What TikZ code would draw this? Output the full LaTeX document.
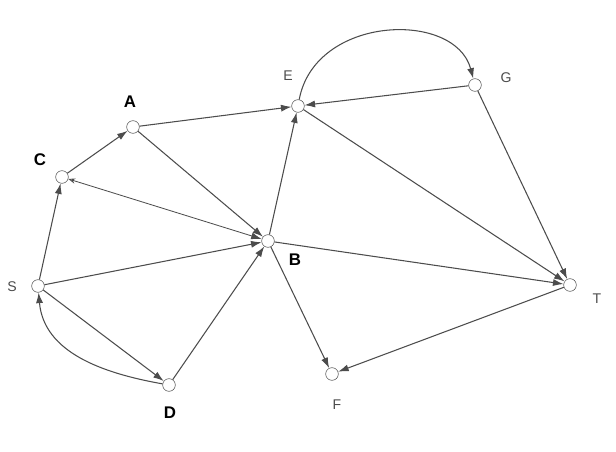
\documentclass[tikz,border=0pt]{standalone}
\usepackage{fontspec}
\setmainfont{Liberation Sans}
\usetikzlibrary{arrows.meta}
\begin{document}
\begin{tikzpicture}[x=0.03cm,y=-0.03cm,
 v/.style={draw=black!75,circle,minimum size=0.38cm,inner sep=0pt,fill=white},
 bl/.style={font=\bfseries\Large},
 gl/.style={font=\large,text=black!70},
 e/.style={draw=black!70,line width=0.9pt,-{Latex[length=9pt,width=6pt]},shorten >=0pt}]
\useasboundingbox (0,0) rectangle (616,452);
\node[v] (A) at (133,127) {};
\node[v] (C) at (62,177) {};
\node[v] (E) at (298,106) {};
\node[v] (G) at (475,85) {};
\node[v] (B) at (268,241) {};
\node[v] (S) at (38,286) {};
\node[v] (T) at (570,285) {};
\node[v] (D) at (169,385) {};
\node[v] (F) at (332,374) {};
\node[bl] (lA) at (130,102) {A};
\node[bl] (lC) at (40,160) {C};
\node[bl] (lB) at (295,260) {B};
\node[bl] (lD) at (170,413) {D};
\node[gl] (lE) at (288,76) {E};
\node[gl] (lG) at (506,78) {G};
\node[gl] (lS) at (12,287) {S};
\node[gl] (lT) at (597,299) {T};
\node[gl] (lF) at (337,405) {F};
\draw[e] (A) -- (E);
\draw[e] (A) -- (B);
\draw[e] (C) -- (A);
\draw[e] (S) -- (C);
\draw[e] (S) -- (B);
\draw[e] (S) -- (D);
\draw[e] (D) to[out=170,in=-85] (S);
\draw[e] (D) -- (B);
\draw[e] (B) -- (E);
\draw[e] (B) -- (T);
\draw[e] (B) -- (F);
\draw[draw=black!70,line width=0.7pt,{Stealth[length=6pt,open]}-{Latex[length=9pt,width=6pt]}] (C) -- (B);
\draw[e] (E) -- (T);
\draw[e] (G) -- (E);
\draw[e] (G) -- (T);
\draw[e] (E) .. controls (315,15) and (455,10) .. (G);
\draw[e] (T) -- (F);
\end{tikzpicture}
\end{document}
